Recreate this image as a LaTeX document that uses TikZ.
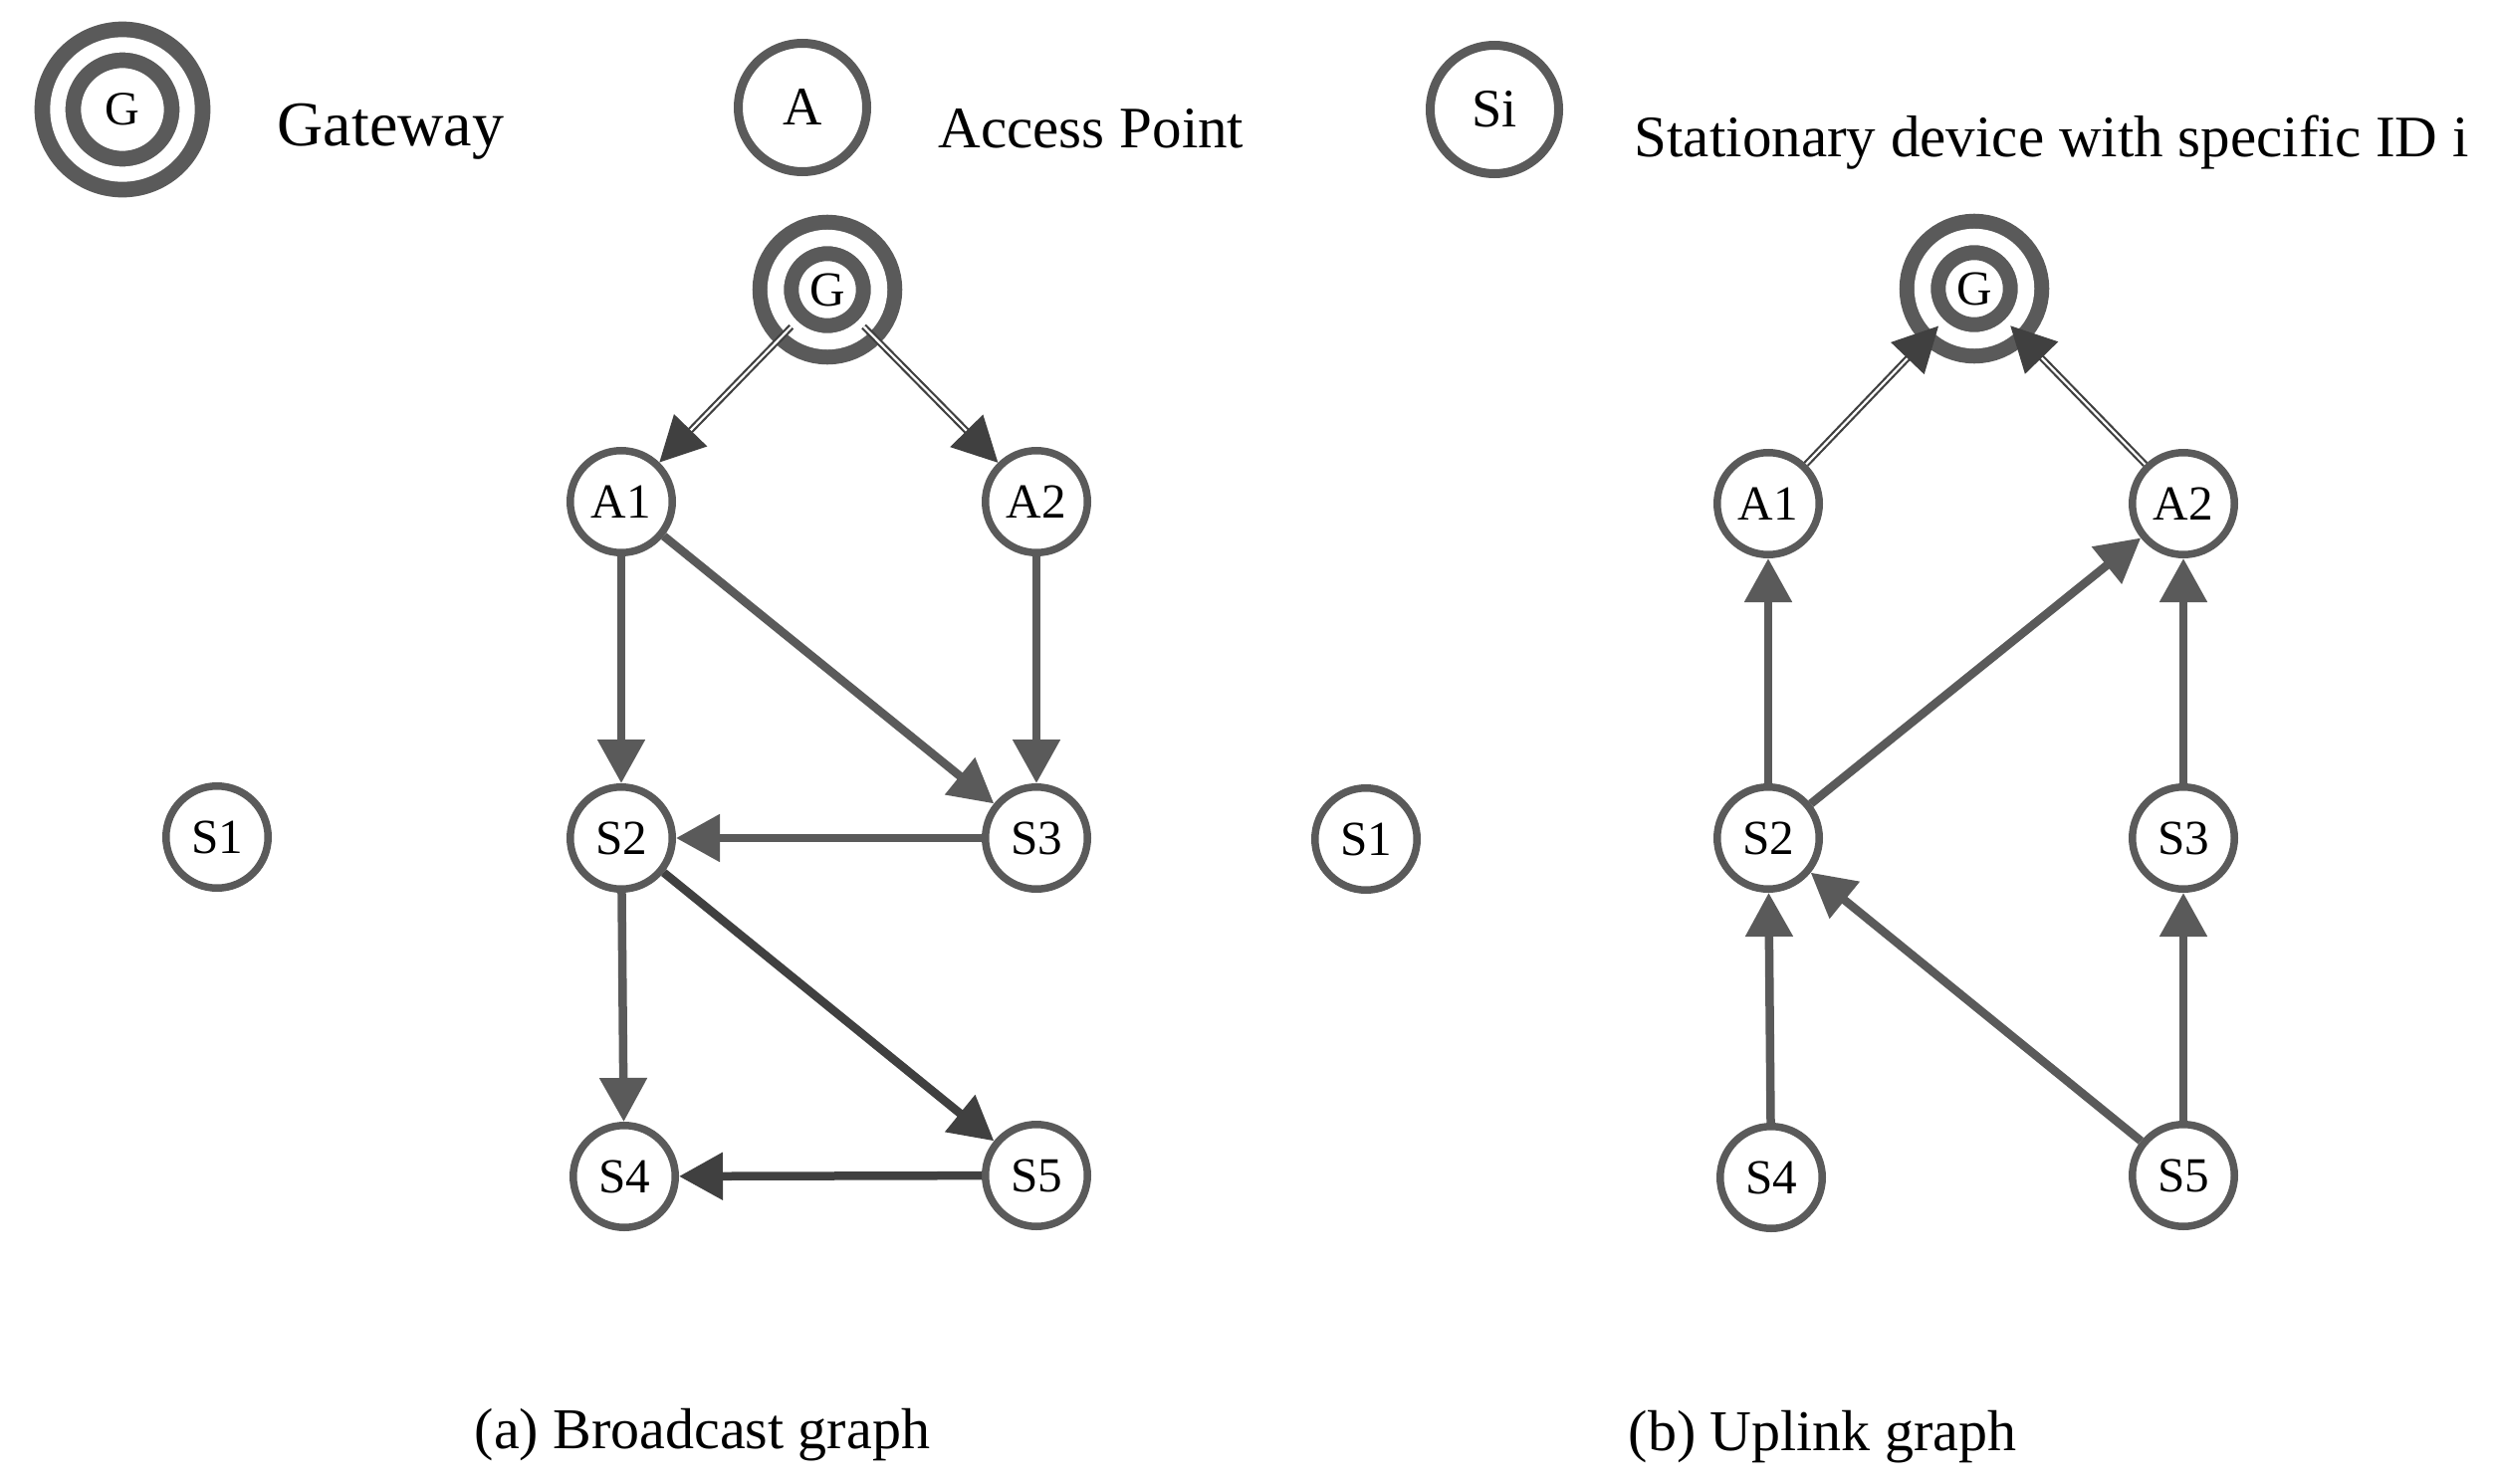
\documentclass[tikz,border=0pt]{standalone}
\usepackage{fontspec}
\setmainfont{Liberation Serif}
\usetikzlibrary{arrows.meta}
\definecolor{ngray}{HTML}{5A5A5A}
\definecolor{dgray}{HTML}{404040}
\begin{document}
\begin{tikzpicture}[x=0.1mm,y=-0.1mm,
  vtx/.style={circle,draw=ngray,line width=0.75mm,minimum size=10.25mm,inner sep=0pt,font=\fontsize{14}{14}\selectfont},
  gw/.style={circle,draw=ngray,double=white,double distance=1.65mm,line width=1.5mm,minimum size=10.4mm,inner sep=0pt,outer sep=0pt,font=\fontsize{14}{14}\selectfont},
  lgw/.style={gw,double distance=1.53mm,line width=1.57mm,minimum size=13mm,font=\fontsize{13.7}{13.7}\selectfont},
  lvtx/.style={vtx,line width=0.9mm,minimum size=12.9mm,font=\fontsize{15.5}{15.5}\selectfont},
  arr/.style={draw=ngray,line width=0.85mm,-{Triangle[length=4.4mm,width=4.6mm]}},
  darr/.style={arr,draw=dgray},
  dbl/.style={draw=dgray,double=white,double distance=0.22mm,line width=0.22mm,-{Triangle[length=4.5mm,width=4.6mm]}},
  lbl/.style={anchor=base west,inner sep=0pt,font=\fontsize{16.8}{16.8}\selectfont},
  captxt/.style={anchor=base west,inner sep=0pt,font=\fontsize{16.5}{16.5}\selectfont},
]
\useasboundingbox (0,0) rectangle (2508,1491);

% legend
\node[lgw] (LG) at (123,110) {G};
\node[lbl,font=\fontsize{18.2}{18.2}\selectfont] (LGt) at (278,146) {Gateway};
\node[lvtx] (LA) at (806,108) {A};
\node[lbl] (LAt) at (942,148) {Access Point};
\node[lvtx] (LS) at (1501,110) {Si};
\node[lbl] (LSt) at (1641,157) {Stationary device with specific ID i};

% (a) broadcast graph
\node[gw] (Ga) at (831,291) {G};
\node[vtx] (A1a) at (624,504) {A1};
\node[vtx] (A2a) at (1041,504) {A2};
\node[vtx] (S1a) at (218,841) {S1};
\node[vtx] (S2a) at (624,842) {S2};
\node[vtx] (S3a) at (1041,842) {S3};
\node[vtx] (S4a) at (627,1182) {S4};
\node[vtx] (S5a) at (1041,1181) {S5};

\draw[dbl] (Ga) -- (A1a);
\draw[dbl] (Ga) -- (A2a);
\draw[arr] (A1a) -- (S2a);
\draw[arr] (A1a) -- (S3a);
\draw[arr] (A2a) -- (S3a);
\draw[arr] (S3a) -- (S2a);
\draw[arr] (S2a) -- (S4a);
\draw[darr] (S2a) -- (S5a);
\draw[darr] (S5a) -- (S4a);

% (b) uplink graph
\node[gw] (Gb) at (1983,290) {G};
\node[vtx] (A1b) at (1776,506) {A1};
\node[vtx] (A2b) at (2193,506) {A2};
\node[vtx] (S1b) at (1372,843) {S1};
\node[vtx] (S2b) at (1776,842) {S2};
\node[vtx] (S3b) at (2193,842) {S3};
\node[vtx] (S4b) at (1779,1183) {S4};
\node[vtx] (S5b) at (2193,1181) {S5};

\draw[dbl] (A1b) -- (Gb);
\draw[dbl] (A2b) -- (Gb);
\draw[arr] (S2b) -- (A1b);
\draw[arr] (S2b) -- (A2b);
\draw[arr] (S3b) -- (A2b);
\draw[arr] (S4b) -- (S2b);
\draw[arr] (S5b) -- (S2b);
\draw[arr] (S5b) -- (S3b);

% captions
\node[captxt] (capa) at (476,1455) {(a) Broadcast graph};
\node[captxt] (capb) at (1635,1457) {(b) Uplink graph};
\end{tikzpicture}
\end{document}
